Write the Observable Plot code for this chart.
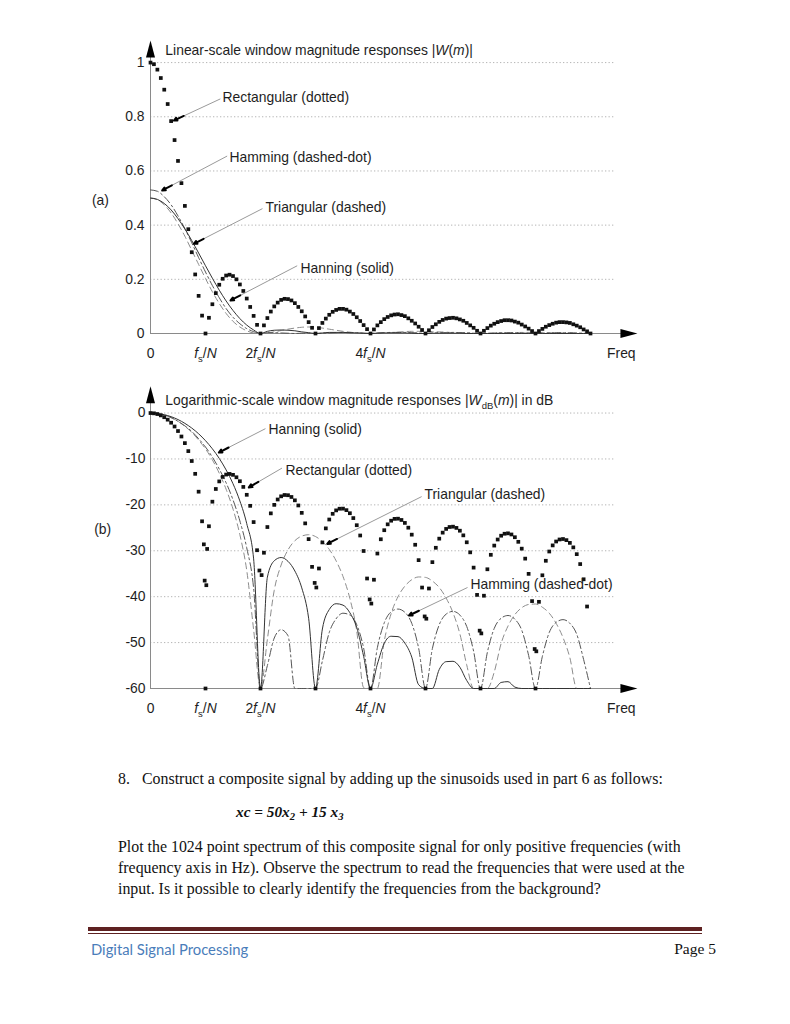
<!DOCTYPE html>
<html><head><meta charset="utf-8">
<script src="https://cdn.jsdelivr.net/npm/d3@7"></script>
<script src="https://cdn.jsdelivr.net/npm/@observablehq/plot@0.6"></script>
<style>
html,body{margin:0;padding:0;background:#fff;}
#page{position:relative;width:790px;height:1024px;overflow:hidden;background:#fff;}
.chart{position:absolute;left:0;}
.txt{position:absolute;font-family:"Liberation Serif","Times New Roman",serif;font-size:15.9px;color:#111;white-space:nowrap;line-height:20px;}
.num{display:inline-block;width:24px;}
.frm{font-weight:bold;font-style:italic;font-size:15.3px;}
.frm sub{font-size:70%;vertical-align:-3px;line-height:0;}
#rule1{position:absolute;left:88px;width:614px;top:927px;height:4px;background:#5e2121;}
#rule2{position:absolute;left:88px;width:614px;top:933px;height:1px;background:#5e2121;}
#foot1{position:absolute;left:91px;top:939px;line-height:20px;font-family:Lato,"Open Sans",sans-serif;font-size:14.8px;color:#4a7dba;white-space:nowrap;}
#foot2{position:absolute;right:74px;top:939px;line-height:20px;font-family:"Liberation Serif",serif;font-size:15.5px;color:#111;white-space:nowrap;}
</style></head>
<body><div id="page">
<div id="chartA" class="chart" style="top:0px"></div>
<div id="chartB" class="chart" style="top:370px"></div>
<div id="body"></div>
<div id="rule1"></div><div id="rule2"></div>
<div id="foot1"></div><div id="foot2"></div>
</div>
<script>
// ---------------- data ----------------
// frequency in units of fs/N; rectangular samples every 1/16, line series every 1/8
const rectStep = 1 / 16;
const lineStep = 1 / 8;

const rectLinear = [
1.000,0.994,0.974,0.943,0.900,0.847,0.784,0.714,0.637,0.555,0.471,0.385,0.300,0.218,0.139,0.066,
0.000,0.058,0.108,0.149,0.180,0.202,0.214,0.217,0.212,0.200,0.181,0.157,0.129,0.098,0.065,0.032,
0.000,0.030,0.057,0.081,0.100,0.114,0.124,0.128,0.127,0.122,0.112,0.098,0.082,0.063,0.042,0.021,
0.000,0.020,0.039,0.055,0.069,0.080,0.087,0.091,0.091,0.088,0.081,0.072,0.060,0.046,0.031,0.016,
0.000,0.015,0.030,0.042,0.053,0.061,0.067,0.070,0.071,0.068,0.064,0.056,0.047,0.037,0.025,0.013,
0.000,0.012,0.024,0.034,0.043,0.050,0.055,0.057,0.058,0.056,0.052,0.047,0.039,0.030,0.021,0.010,
0.000,0.010,0.020,0.029,0.036,0.042,0.046,0.049,0.049,0.048,0.044,0.040,0.033,0.026,0.018,0.009,
0.000,0.009,0.017,0.025,0.031,0.036,0.040,0.042,0.042,0.041,0.039,0.034,0.029,0.023,0.015,0.008,
0.000];

const rectDb = [
0,-0.06,-0.22,-0.51,-0.91,-1.44,-2.11,-2.93,-3.92,-5.11,-6.55,-8.29,-10.45,-13.24,-17.13,-23.58,
-60,-24.66,-19.31,-16.54,-14.89,-13.91,-13.40,-13.26,-13.46,-13.99,-14.85,-16.09,-17.81,-20.21,-23.75,-29.88,
-60,-30.43,-24.83,-21.85,-20.00,-18.83,-18.14,-17.85,-17.90,-18.28,-19.01,-20.13,-21.74,-24.03,-27.46,-33.50,
-60,-33.86,-28.18,-25.12,-23.19,-21.95,-21.20,-20.84,-20.82,-21.15,-21.82,-22.88,-24.43,-26.67,-30.05,-36.04,
-60,-36.31,-30.60,-27.49,-25.52,-24.24,-23.45,-23.05,-23.01,-23.29,-23.93,-24.97,-26.49,-28.69,-32.04,-38.01,
-60,-38.22,-32.48,-29.35,-27.36,-26.05,-25.24,-24.82,-24.75,-25.02,-25.63,-26.64,-28.15,-30.34,-33.67,-39.61,
-60,-39.79,-34.03,-30.88,-28.87,-27.55,-26.72,-26.29,-26.20,-26.45,-27.05,-28.05,-29.54,-31.71,-35.03,-40.96,
-60,-41.12,-35.34,-32.18,-30.16,-28.83,-27.98,-27.54,-27.44,-27.68,-28.28,-29.26,-30.74,-32.90,-36.21,-42.14];

// extra rectangular samples seen close to each null in the dB plot
const rectDbNearNullFreq = [0.97,1.03,0.985,1.015,1.98,2.02,2.985,3.015,3.985,4.015,4.985,5.015,5.985,6.015,6.985,7.015];
const rectDbNearNullVal  = [-28.6,-29.6,-36.5,-37.5,-34.3,-35.3,-37.0,-38.0,-40.6,-41.5,-44.3,-44.8,-47.4,-48.0,-51.4,-51.9];

const hanningLinear = [
0.500,0.495,0.480,0.456,0.424,0.386,0.343,0.297,0.250,0.204,0.160,0.120,0.085,0.055,0.031,0.013,
0.000,0.008,0.012,0.013,0.012,0.010,0.006,0.003,
0.000,0.002,0.004,0.004,0.004,0.003,0.002,0.001,
0.000,0.001,0.002,0.002,0.002,0.002,0.001,0.000,
0.000,0.001,0.001,0.001,0.001,0.001,0.000,0.000,
0.000,0.000,0.000,0.000,0.000,0.000,0.000,0.000,
0.000,0.000,0.000,0.000,0.000,0.000,0.000,0.000,
0.000];
const hammingLinear = [
0.530,0.525,0.505,0.475,0.434,0.387,0.335,0.280,0.227,0.177,0.132,0.092,0.060,0.036,0.018,0.007,
0.000,0.003,0.003,0.002,0.001,0.000,0.001,0.001,
0.000,0.001,0.002,0.003,0.004,0.003,0.003,0.001,
0.000,0.002,0.003,0.004,0.004,0.004,0.003,0.002,
0.000,0.002,0.003,0.003,0.004,0.003,0.003,0.001,
0.000,0.001,0.002,0.003,0.003,0.003,0.002,0.001,
0.000,0.001,0.002,0.003,0.003,0.003,0.002,0.001,
0.000];
const triangularLinear = [
0.500,0.494,0.475,0.445,0.405,0.359,0.307,0.255,0.203,0.154,0.111,0.074,0.045,0.024,0.010,0.002,
0.000,0.002,0.006,0.011,0.016,0.020,0.023,0.024,
0.023,0.020,0.016,0.012,0.008,0.005,0.002,0.001,
0.000,0.001,0.002,0.003,0.005,0.007,0.008,0.008,
0.008,0.007,0.006,0.005,0.003,0.002,0.001,0.000,
0.000,0.000,0.001,0.002,0.002,0.003,0.004,0.004,
0.004,0.004,0.003,0.003,0.002,0.001,0.000,0.000,
0.000];

const hanningDb = [
0,-0.09,-0.35,-0.79,-1.42,-2.25,-3.27,-4.52,-6.02,-7.79,-9.89,-12.39,-15.40,-19.15,-24.10,-31.77,
-60,-35.75,-32.18,-31.47,-32.30,-34.41,-38.08,-44.69,
-60,-47.04,-42.80,-41.53,-41.84,-43.50,-46.75,-52.98,
-60,-54.69,-50.16,-48.62,-48.70,-50.12,-53.16,-59.19,
-60,-60,-55.85,-54.15,-54.07,-55.36,-58.27,-60,
-60,-60,-60,-58.68,-58.51,-59.70,-60,-60,
-60,-60,-60,-60,-60,-60,-60,-60,
-60];
const hammingDb = [
0,-0.1,-0.4,-1.0,-1.8,-2.8,-4.0,-5.6,-7.4,-9.6,-12.2,-15.2,-18.9,-23.5,-29.4,-38.2,
-60,-55.0,-49.0,-47.2,-48.5,-60,-60,-60,
-60,-54.0,-47.8,-44.8,-43.6,-44.0,-46.1,-51.2,
-60,-51.1,-45.7,-43.3,-42.7,-43.4,-45.8,-51.2,
-60,-51.3,-46.1,-43.8,-43.2,-44.0,-46.5,-51.9,
-60,-52.1,-46.9,-44.7,-44.1,-44.9,-47.3,-52.8,
-60,-53.0,-47.8,-45.6,-45.0,-45.8,-48.2,-53.7,
-60];
const triangularDb = [
0,-0.1,-0.5,-1.0,-1.8,-2.9,-4.2,-5.9,-7.8,-10.2,-13.1,-16.6,-20.9,-26.5,-34.3,-47.2,
-60,-49.3,-38.6,-33.1,-29.8,-27.8,-26.8,-26.5,
-26.9,-28.0,-29.7,-32.2,-35.6,-40.4,-47.5,-59.8,
-60,-60,-49.7,-43.7,-40.0,-37.7,-36.3,-35.7,
-35.8,-36.6,-38.0,-40.3,-43.5,-48.1,-54.9,-60,
-60,-60,-56.4,-50.2,-46.4,-43.9,-42.4,-41.7,
-41.6,-42.3,-43.6,-45.8,-48.9,-53.3,-60,-60,
-60];

const yTicksLinear = [0, 0.2, 0.4, 0.6, 0.8, 1];
const gridLinear = [0.2, 0.4, 0.6, 0.8, 1];
const yTicksDb = [0, -10, -20, -30, -40, -50, -60];
const gridDb = [0, -10, -20, -30, -40, -50];
const xTickPos = [0, 1, 2, 4];
const xTickLabels = ["0", "*f*~s~/*N*", "2*f*~s~/*N*", "4*f*~s~/*N*"];
const xAxisName = "Freq";
const titleLinear = "Linear-scale window magnitude responses |*W*(*m*)|";
const titleDb = "Logarithmic-scale window magnitude responses |*W*~dB~(*m*)| in dB";
const panelLabels = ["(a)", "(b)"];
const seriesLabelsA = ["Rectangular (dotted)", "Hamming (dashed-dot)", "Triangular (dashed)", "Hanning (solid)"];
const seriesLabelsB = ["Hanning (solid)", "Rectangular (dotted)", "Triangular (dashed)", "Hamming (dashed-dot)"];

const bodyLine1 = ["8.", "Construct a composite signal by adding up the sinusoids used in part 6 as follows:"];
const formulaHtml = "xc = 50x<sub>2</sub> + 15 x<sub>3</sub>";
const bodyPara = [
 "Plot the 1024 point spectrum of this composite signal for only positive frequencies (with",
 "frequency axis in Hz). Observe the spectrum to read the frequencies that were used at the",
 "input. Is it possible to clearly identify the frequencies from the background?"];
const footerLeft = "Digital Signal Processing";
const footerRight = "Page 5";

// ---------------- layout ----------------
const PX_X = 55;          // px per fs/N
const PX_YA = 270.9;      // px per linear unit
const PX_YB = 4.59;       // px per dB
const FONT = '"Liberation Sans", Arial, Helvetica, sans-serif';
const INK = "#1e1e1e";

const rows = (arr, step) => arr.map((v, i) => ({f: i * step, v}));
const arrowSym = {draw(ctx) { ctx.moveTo(0, -9); ctx.lineTo(4.5, 8); ctx.lineTo(-4.5, 8); ctx.closePath(); }};

function annotations(labels, geo, pxy) {
  return labels.map((label, i) => {
    const g = geo[i];
    const len = Math.hypot((g.tip[0] - g.from[0]) * PX_X, (g.tip[1] - g.from[1]) * pxy);
    const fr = 11 / len;
    return {label, tx: g.text[0], ty: g.text[1], sx: g.from[0], sy: g.from[1],
      hx: g.tip[0] - (g.tip[0] - g.from[0]) * fr, hy: g.tip[1] - (g.tip[1] - g.from[1]) * fr,
      ex: g.tip[0], ey: g.tip[1]};
  });
}

const geoA = [
  {text: [1.31, 0.871], from: [1.27, 0.866], tip: [0.424, 0.786]},
  {text: [1.436, 0.650], from: [1.394, 0.655], tip: [0.212, 0.528]},
  {text: [2.09, 0.465], from: [2.036, 0.461], tip: [0.788, 0.331]},
  {text: [2.727, 0.240], from: [2.667, 0.250], tip: [1.455, 0.122]}];
const geoB = [
  {text: [2.145, -3.7], from: [2.09, -3.4], tip: [1.242, -8.6]},
  {text: [2.455, -12.6], from: [2.39, -12.0], tip: [1.788, -16.2]},
  {text: [4.982, -17.8], from: [4.93, -18.2], tip: [3.213, -28.5]},
  {text: [5.818, -37.4], from: [5.764, -38.0], tip: [4.70, -44.1]}];

function annotationMarks(ann) {
  return [
    Plot.link(ann, {x1: "sx", y1: "sy", x2: "hx", y2: "hy", stroke: "#9a9a9a", strokeWidth: 1}),
    Plot.arrow(ann, {x1: "hx", y1: "hy", x2: "ex", y2: "ey", stroke: "#000", strokeWidth: 2, headLength: 10, headAngle: 50}),
    Plot.text(ann, {x: "tx", y: "ty", text: "label", textAnchor: "start", fill: INK})
  ];
}

function richify(root) {
  const NS = "http://www.w3.org/2000/svg";
  root.querySelectorAll("text").forEach(t => {
    if (t.querySelector("tspan")) return;
    const s = t.textContent;
    if (!/[*~]/.test(s)) return;
    t.textContent = "";
    let ital = false, sub = false, buf = "", dy = 0;
    const flush = () => {
      if (!buf) return;
      const ts = document.createElementNS(NS, "tspan");
      ts.textContent = buf;
      if (ital) ts.setAttribute("font-style", "italic");
      if (sub) ts.setAttribute("font-size", "9.5px");
      if (dy) { ts.setAttribute("dy", dy); dy = 0; }
      t.appendChild(ts); buf = "";
    };
    for (const ch of s) {
      if (ch === "*") { flush(); ital = !ital; }
      else if (ch === "~") { flush(); dy += sub ? -4 : 4; sub = !sub; }
      else buf += ch;
    }
    flush();
  });
}

const style = {fontFamily: FONT, fontSize: "13.9px", color: INK, background: "transparent", overflow: "visible"};

// ---------------- chart (a) ----------------
const tickRowsA = xTickPos.map((x, i) => ({x, label: xTickLabels[i]}));
const chartA = Plot.plot({
  width: 790, height: 370,
  marginLeft: 150, marginRight: 150.5, marginTop: 35, marginBottom: 37,
  x: {domain: [0, 8.9], axis: null},
  y: {domain: [0, 1.1], axis: null},
  style,
  marks: [
    Plot.ruleY(gridLinear, {x1: 0, x2: 8.45, stroke: "#b5b5b5", strokeDasharray: "1.3,2.2"}),
    Plot.ruleX([0], {y1: 0, y2: 1.03, stroke: "#8a8a8a"}),
    Plot.ruleY([0], {x1: 0, x2: 8.6, stroke: "#8a8a8a"}),
    Plot.dot([{x: 8.69, y: 0}], {x: "x", y: "y", symbol: arrowSym, rotate: 90, fill: "#000"}),
    Plot.dot([{x: 0, y: 1.048}], {x: "x", y: "y", symbol: arrowSym, fill: "#000"}),
    Plot.line(rows(triangularLinear, lineStep), {x: "f", y: "v", stroke: "#8c8c8c", strokeWidth: 1, strokeDasharray: "6,4", curve: "monotone-x"}),
    Plot.line(rows(hammingLinear, lineStep), {x: "f", y: "v", stroke: "#555", strokeWidth: 1, strokeDasharray: "8,3,2,3", curve: "monotone-x"}),
    Plot.line(rows(hanningLinear, lineStep), {x: "f", y: "v", stroke: "#333", strokeWidth: 1, curve: "monotone-x"}),
    Plot.dot(rows(rectLinear, rectStep), {x: "f", y: "v", symbol: "square", r: 2.1, fill: "#111"}),
    Plot.text(yTicksLinear, {x: 0, y: d => d, text: d => String(d), textAnchor: "end", dx: -6, fill: INK}),
    Plot.text(tickRowsA, {x: "x", y: 0, text: "label", dy: 20, fill: INK}),
    Plot.text([xAxisName], {x: 8.56, y: 0, text: d => d, dy: 20, fill: INK}),
    Plot.text([titleLinear], {x: 0.27, y: 1.045, text: d => d, textAnchor: "start", fill: INK}),
    Plot.text([panelLabels[0]], {x: -0.91, y: 0.491, text: d => d, fill: INK}),
    ...annotationMarks(annotations(seriesLabelsA, geoA, PX_YA))
  ]
});
richify(chartA);
document.getElementById("chartA").appendChild(chartA);

// ---------------- chart (b) ----------------
const rectDbRows = rows(rectDb, rectStep).concat(rectDbNearNullFreq.map((f, i) => ({f, v: rectDbNearNullVal[i]})));
const chartB = Plot.plot({
  width: 790, height: 360,
  marginLeft: 150, marginRight: 150.5, marginTop: 15, marginBottom: 42,
  x: {domain: [0, 8.9], axis: null},
  y: {domain: [-60, 6], axis: null},
  style,
  marks: [
    Plot.ruleY(gridDb, {x1: 0, x2: 8.45, stroke: "#b5b5b5", strokeDasharray: "1.3,2.2"}),
    Plot.ruleX([0], {y1: -60, y2: 3, stroke: "#8a8a8a"}),
    Plot.ruleY([-60], {x1: 0, x2: 8.6, stroke: "#8a8a8a"}),
    Plot.dot([{x: 8.69, y: -60}], {x: "x", y: "y", symbol: arrowSym, rotate: 90, fill: "#000"}),
    Plot.dot([{x: 0, y: 3.9}], {x: "x", y: "y", symbol: arrowSym, fill: "#000"}),
    Plot.line(rows(triangularDb, lineStep), {x: "f", y: "v", stroke: "#8c8c8c", strokeWidth: 1, strokeDasharray: "6,4", curve: "monotone-x"}),
    Plot.line(rows(hammingDb, lineStep), {x: "f", y: "v", stroke: "#555", strokeWidth: 1, strokeDasharray: "8,3,2,3", curve: "monotone-x"}),
    Plot.line(rows(hanningDb, lineStep), {x: "f", y: "v", stroke: "#333", strokeWidth: 1, curve: "monotone-x"}),
    Plot.dot(rectDbRows, {x: "f", y: "v", symbol: "square", r: 2.1, fill: "#111"}),
    Plot.text(yTicksDb, {x: 0, y: d => d, text: d => String(d), textAnchor: "end", dx: -5, fill: INK}),
    Plot.text(tickRowsA, {x: "x", y: -60, text: "label", dy: 20, fill: INK}),
    Plot.text([xAxisName], {x: 8.56, y: -60, text: d => d, dy: 20, fill: INK}),
    Plot.text([titleDb], {x: 0.27, y: 2.8, text: d => d, textAnchor: "start", fill: INK}),
    Plot.text([panelLabels[1]], {x: -0.87, y: -25.4, text: d => d, fill: INK}),
    ...annotationMarks(annotations(seriesLabelsB, geoB, PX_YB))
  ]
});
richify(chartB);
document.getElementById("chartB").appendChild(chartB);

// ---------------- text below ----------------
const body = document.getElementById("body");
function addLine(html, left, centerY, cls) {
  const d = document.createElement("div");
  d.className = "txt" + (cls ? " " + cls : "");
  d.style.left = left + "px";
  d.style.top = (centerY - 10) + "px";
  d.innerHTML = html;
  body.appendChild(d);
}
addLine('<span class="num">' + bodyLine1[0] + '</span>' + bodyLine1[1], 118, 779);
addLine(formulaHtml, 236, 812, "frm");
bodyPara.forEach((s, i) => addLine(s, 118, 847 + i * 21));
document.getElementById("foot1").textContent = footerLeft;
document.getElementById("foot2").textContent = footerRight;
</script>
</body></html>
